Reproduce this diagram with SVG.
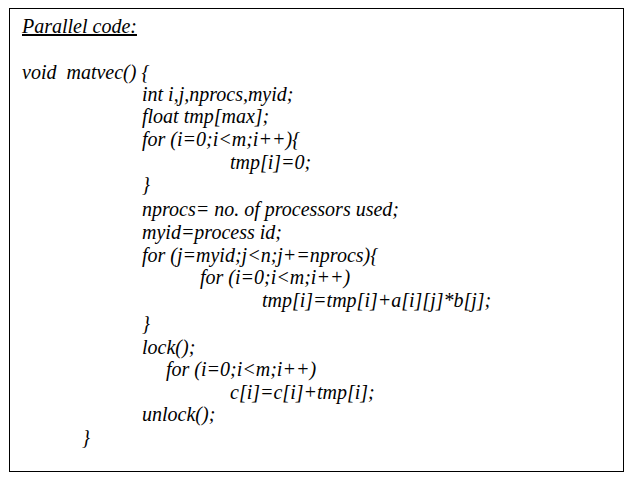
<svg xmlns="http://www.w3.org/2000/svg" width="631" height="486" viewBox="0 0 631 486">
<style>
text{font-family:'Liberation Serif','Times New Roman',serif;font-style:italic;font-size:20px;fill:#000}
</style>
<rect width="631" height="486" fill="#fff"/>
<g id="box"><rect x="9.5" y="8.5" width="614" height="463" fill="none" stroke="#000" stroke-width="1"/></g>
<g id="code">
<text x="22" y="33" text-decoration="underline">Parallel code:</text>
<text x="22" y="79" xml:space="preserve">void  matvec() {</text>
<text x="142" y="101">int i,j,nprocs,myid;</text>
<text x="142" y="123">float tmp[max];</text>
<text x="142" y="146">for (i=0;i&lt;m;i++){</text>
<text x="230" y="169">tmp[i]=0;</text>
<text x="142" y="191">}</text>
<text x="142" y="216">nprocs= no. of processors used;</text>
<text x="142" y="239">myid=process id;</text>
<text x="142" y="262">for (j=myid;j&lt;n;j+=nprocs){</text>
<text x="200" y="284">for (i=0;i&lt;m;i++)</text>
<text x="262" y="307">tmp[i]=tmp[i]+a[i][j]*b[j];</text>
<text x="142" y="330">}</text>
<text x="142" y="354">lock();</text>
<text x="166" y="376">for (i=0;i&lt;m;i++)</text>
<text x="230" y="399">c[i]=c[i]+tmp[i];</text>
<text x="142" y="421">unlock();</text>
<text x="82" y="444">}</text>
</g>
</svg>
